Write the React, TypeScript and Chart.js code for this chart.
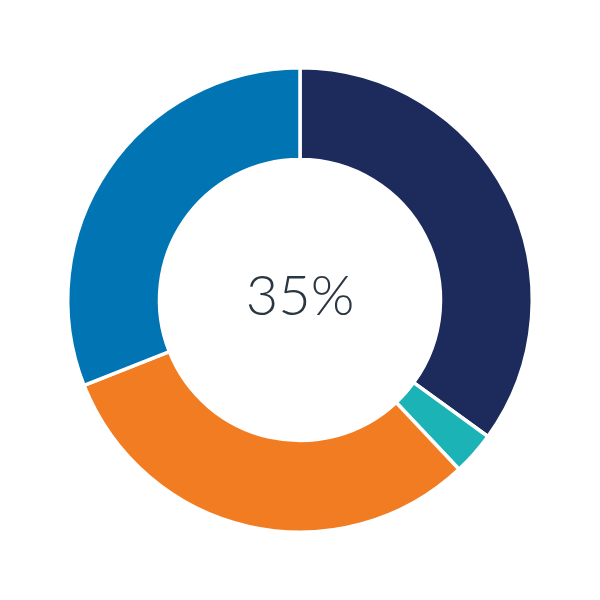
import React, { useEffect, useRef } from 'react';
import Chart from 'chart.js/auto';

// segments clockwise from 12 o'clock
const labels = ['Navy', 'Teal', 'Orange', 'Blue'];
const values = [35, 3, 31, 31];
const colors = ['#1c2b5b', '#1bb3b5', '#f27c21', '#0174b3'];
const centerLabel = '35%';

const App = () => {
  const canvasRef = useRef<HTMLCanvasElement | null>(null);

  useEffect(() => {
    document.body.style.margin = '0';
    if (!canvasRef.current) return;
    const chart = new Chart(canvasRef.current, {
      type: 'doughnut',
      data: {
        labels: labels,
        datasets: [{
          data: values,
          backgroundColor: colors,
          borderColor: '#ffffff',
          borderWidth: 3.5,
          hoverOffset: 0,
        }],
      },
      options: {
        animation: false,
        responsive: false,
        cutout: '60.5%',
        layout: { padding: 66 },
        plugins: {
          legend: { display: false },
          tooltip: { enabled: false },
        },
      },
    });
    return () => chart.destroy();
  }, []);

  return (
    <div style={{ position: 'relative', width: 600, height: 600, background: '#ffffff' }}>
      <canvas ref={canvasRef} width={600} height={600}></canvas>
      <div style={{
        position: 'absolute', left: 0, top: -7, width: 600, height: 600,
        display: 'flex', alignItems: 'center', justifyContent: 'center',
        fontFamily: 'Lato, sans-serif', fontWeight: 300, fontSize: 56,
        color: '#2b3643', pointerEvents: 'none',
      }}>
        {centerLabel}
      </div>
    </div>
  );
};

export default App;
